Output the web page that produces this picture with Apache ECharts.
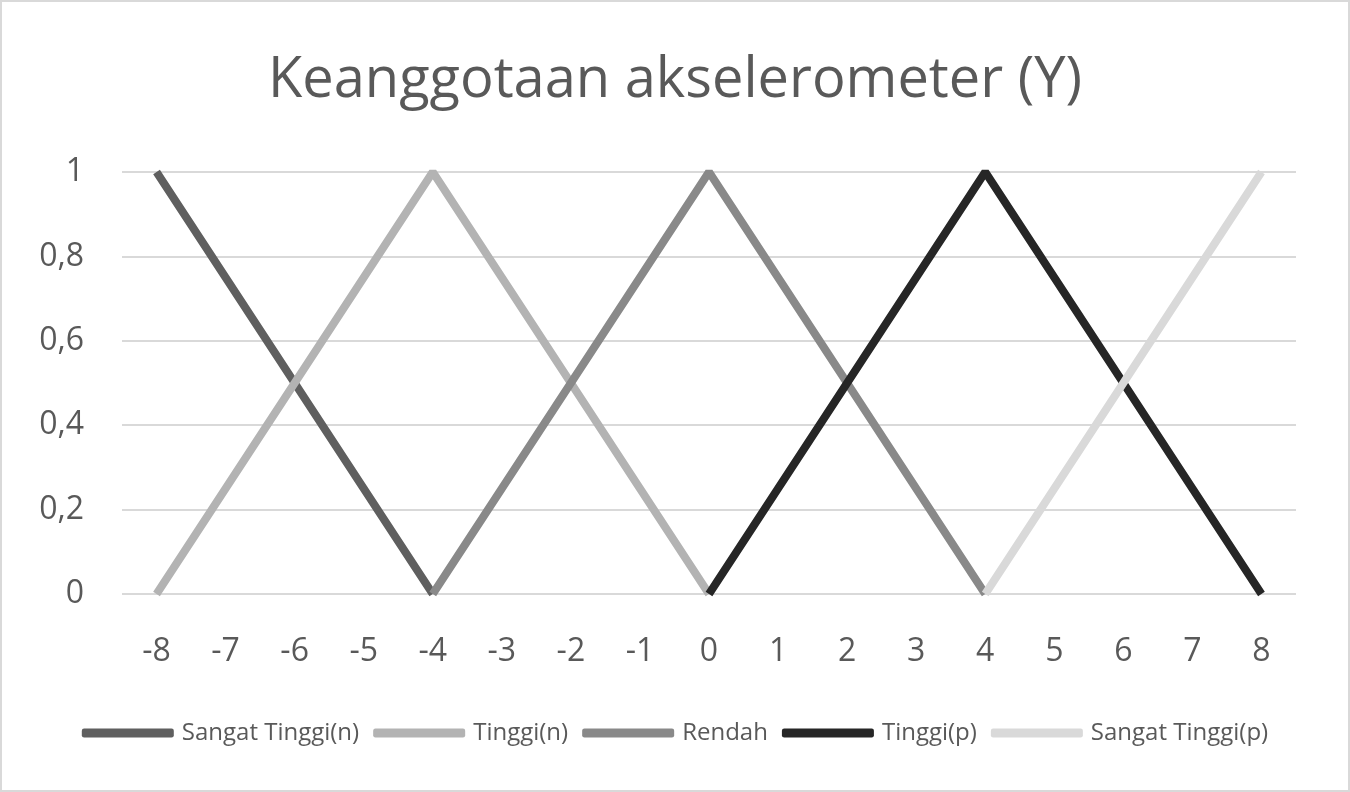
<!DOCTYPE html>
<html><head><meta charset="utf-8">
<script src="https://cdn.jsdelivr.net/npm/echarts@6/dist/echarts.min.js"></script>
<style>html,body{margin:0;padding:0;background:#fff}#c{width:1350px;height:792px;box-sizing:border-box;border:2px solid #d9d9d9}</style>
</head><body><div id="c"></div>
<script>
const categories = ['-8','-7','-6','-5','-4','-3','-2','-1','0','1','2','3','4','5','6','7','8'];
const sangatTinggiN = [1,0.75,0.5,0.25,0,null,null,null,null,null,null,null,null,null,null,null,null];
const tinggiN = [0,0.25,0.5,0.75,1,0.75,0.5,0.25,0,null,null,null,null,null,null,null,null];
const rendah = [null,null,null,null,0,0.25,0.5,0.75,1,0.75,0.5,0.25,0,null,null,null,null];
const tinggiP = [null,null,null,null,null,null,null,null,0,0.25,0.5,0.75,1,0.75,0.5,0.25,0];
const sangatTinggiP = [null,null,null,null,null,null,null,null,null,null,null,null,0,0.25,0.5,0.75,1];
const seriesNames = ['Sangat Tinggi(n)','Tinggi(n)','Rendah','Tinggi(p)','Sangat Tinggi(p)'];
const seriesData = [sangatTinggiN, tinggiN, rendah, tinggiP, sangatTinggiP];
const colors = ['#5f5f5f','#b3b3b3','#898989','#262626','#d9d9d9'];
const FONT = 'Open Sans';
const chart = echarts.init(document.getElementById('c'));
chart.setOption({
  animation:false,
  color: colors,
  title:{text:'Keanggotaan akselerometer (Y)',left:'center',top:46,
    textStyle:{fontFamily:FONT,fontSize:56,fontWeight:'normal',color:'#595959'}},
  grid:{left:120,right:52,top:170,bottom:196,containLabel:false},
  legend:{top:714,left:'center',itemWidth:92,itemHeight:9,itemGap:14,icon:'roundRect',
    textStyle:{fontFamily:FONT,fontSize:24,color:'#595959',padding:[0,0,0,3]},
    data:seriesNames},
  xAxis:{type:'category',data:categories,boundaryGap:true,
    axisLine:{show:false},axisTick:{show:false},
    axisLabel:{fontFamily:FONT,fontSize:32,color:'#595959',margin:42}},
  yAxis:{type:'value',min:0,max:1,interval:0.2,
    axisLine:{show:false},axisTick:{show:false},
    splitLine:{lineStyle:{color:'#d9d9d9',width:2}},
    axisLabel:{fontFamily:FONT,fontSize:32,color:'#595959',margin:38,
      formatter:v=>String(Math.round(v*10)/10).replace('.',',')}},
  series: seriesData.map((d,i)=>({name:seriesNames[i],type:'line',data:d,showSymbol:false,symbol:'none',
    connectNulls:false,lineStyle:{width:8,color:colors[i]},itemStyle:{color:colors[i]}}))
});
</script></body></html>
